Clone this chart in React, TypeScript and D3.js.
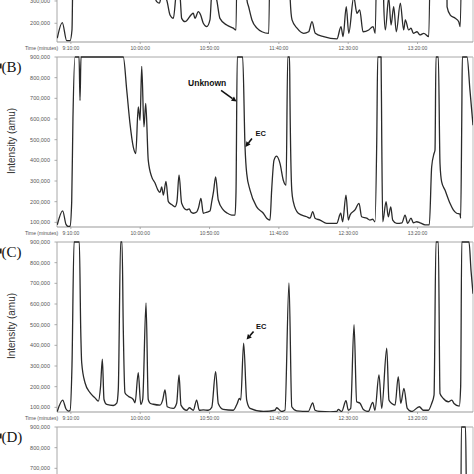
import React from 'react';
import * as d3 from 'd3';

// ---- data (time in seconds, intensity in thousands of amu) ----
const timeTicks = [550, 600, 650, 700, 750, 800];
const timeTickLabels = ['9:10:00', '10:00:00', '10:50:00', '11:40:00', '12:30:00', '13:20:00'];
const intensityTicksK = [100, 200, 300, 400, 500, 600, 700, 800, 900];
const panelLabels = ['(A)', '(B)', '(C)', '(D)'];
const timeTitle = 'Time (minutes)';
const yTitle = 'Intensity (amu)';

const traceAK: [number, number][] = [
  [540.2,133],[543.8,203],[547.0,122],[549.4,122],[550.8,170],[552.3,950],[556.6,950],[585.4,950],[596.3,600],[607.1,400],
  [611.9,297],[613.8,290],[615.7,330],[619.1,304],[621.5,237],[623.9,222],[626.3,340],[628.7,320],[629.9,222],[632.3,207],
  [638.3,245],[639.5,222],[641.9,252],[643.6,237],[645.5,200],[648.0,185],[650.3,215],[651.6,330],[653.2,345],[655.2,304],
  [657.5,222],[662.4,192],[667.1,178],[669.1,170],[670.5,950],[676.3,950],[677.0,304],[678.2,274],[680.6,215],[684.2,178],
  [687.8,162],[692.7,155],[694.3,950],[707.3,950],[708.2,304],[709.5,215],[713.1,178],[717.9,155],[721.5,162],[723.9,207],
  [726.3,155],[732.3,140],[741.9,130],[744.8,185],[746.3,140],[748.6,274],[750.4,155],[754.0,318],[756.3,245],[758.3,260],
  [760.7,162],[764.8,170],[767.9,185],[769.5,155],[771.5,950],[774.7,950],[775.6,290],[776.8,170],[779.2,315],[780.9,192],
  [782.8,274],[784.7,162],[787.6,290],[790.0,170],[791.2,215],[793.6,170],[795.3,178],[797.0,155],[799.6,162],[801.8,148],
  [804.5,155],[808.1,140],[810.1,950],[820.5,950],[821.3,274],[823.6,237],[827.2,222],[829.7,207],[830.8,185],[832.8,950],
  [840.0,950],
];

const traceBK: [number, number][] = [
  [540.2,88],[544.1,156],[546.5,90],[548.1,80],[549.4,82],[550.6,200],[551.5,600],[553.0,950],[555.9,950],[556.6,690],
  [557.3,950],[586.9,950],[587.8,900],[590.3,739],[592.6,580],[595.0,465],[596.8,433],[598.6,658],[599.9,594],[601.1,855],
  [602.7,562],[604.0,675],[605.8,401],[608.3,320],[610.7,290],[612.8,256],[614.3,245],[615.5,272],[616.7,232],[618.6,298],
  [620.3,200],[622.9,185],[625.1,175],[626.5,200],[628.0,329],[629.9,192],[633.5,160],[635.4,165],[636.6,150],[638.3,144],
  [640.7,150],[642.0,170],[643.8,216],[645.5,144],[648.2,150],[650.3,155],[651.6,200],[652.9,250],[654.4,320],[656.3,208],
  [659.9,160],[662.6,145],[666.0,135],[668.4,135],[669.1,250],[670.0,950],[673.4,950],[673.9,900],[675.6,465],[676.8,337],
  [679.2,256],[684.0,175],[688.8,144],[691.2,120],[693.6,111],[694.8,256],[696.5,401],[698.4,420],[700.8,385],[703.2,304],
  [705.2,280],[706.4,950],[707.7,950],[708.0,700],[709.3,256],[710.4,200],[714.0,144],[720.1,127],[722.5,120],[724.4,152],
  [726.1,120],[729.7,111],[734.5,95],[741.7,95],[744.6,144],[746.0,103],[748.4,232],[750.1,111],[751.3,135],[754.9,160],
  [757.8,192],[759.7,127],[763.3,120],[765.7,111],[767.7,115],[769.3,103],[770.6,500],[771.3,950],[773.7,950],[774.2,500],
  [774.9,103],[777.3,200],[778.9,127],[780.7,175],[782.1,111],[785.0,95],[788.8,98],[791.0,135],[792.9,95],[795.3,120],
  [797.0,98],[799.4,103],[801.8,98],[805.4,88],[808.5,88],[810.2,369],[811.9,433],[812.6,449],[813.3,950],[815.0,950],
  [816.2,385],[817.4,296],[819.8,256],[823.4,192],[825.8,160],[828.2,144],[830.6,140],[831.1,120],[831.9,600],[832.3,950],
  [835.7,950],[837.8,740],[840.0,570],
];

const traceCK: [number, number][] = [
  [540.2,80],[544.1,135],[546.5,92],[548.3,82],[549.4,84],[550.8,300],[552.3,950],[556.1,950],[557.1,479],[557.8,317],
  [560.2,219],[563.8,171],[567.4,146],[569.8,130],[571.4,200],[572.7,333],[573.9,138],[575.8,114],[580.6,109],[583.1,120],
  [584.2,187],[585.9,950],[586.9,950],[587.8,479],[589.0,171],[591.4,154],[595.0,138],[596.3,122],[598.6,268],[600.4,114],
  [601.8,138],[604.2,605],[605.8,138],[607.1,120],[609.5,115],[614.3,111],[616.2,135],[617.9,184],[619.5,103],[623.9,95],
  [626.3,120],[628.0,257],[629.4,111],[633.5,86],[635.4,98],[638.3,86],[640.7,135],[642.6,86],[645.5,88],[649.1,86],
  [651.6,100],[654.4,273],[656.3,119],[659.9,90],[667.1,86],[670.0,119],[671.5,143],[672.5,135],[674.6,411],[676.8,135],
  [679.2,95],[688.8,80],[697.2,86],[698.4,98],[702.0,80],[704.4,86],[707.3,702],[709.3,103],[712.9,83],[721.2,80],
  [724.4,122],[726.1,86],[729.7,80],[736.9,78],[741.7,80],[742.9,90],[745.3,80],[748.4,132],[750.1,86],[751.8,95],
  [754.2,500],[756.1,127],[758.5,120],[760.9,90],[764.5,80],[767.7,124],[769.3,86],[772.2,257],[774.2,95],[777.8,386],
  [779.4,135],[781.4,119],[783.8,111],[786.1,249],[787.9,119],[790.2,192],[792.6,95],[795.8,80],[801.3,103],[804.2,86],
  [807.8,86],[810.2,119],[811.9,159],[813.3,950],[815.0,950],[816.2,167],[818.6,143],[822.2,127],[824.7,135],[826.3,119],
  [830.1,106],[831.1,200],[831.9,950],[837.1,950],[838.6,760],[840.0,650],
];

const traceDK: [number, number][] = [
  [540.2,85],[560.0,95],[600.0,92],[650.0,90],[700.0,88],[750.0,90],[800.0,88],[831.0,110],[831.6,950],[834.6,950],
  [835.2,600],[836.0,200],[838.0,120],[840.0,110],
];

const traces = [traceAK, traceBK, traceCK, traceDK];

type Ann = { panel: number; t: number; v: number; text: string; tail: [number, number]; txt: [number, number]; size: number };
const annotations: Ann[] = [
  { panel: 1, t: 669.5, v: 685, text: 'Unknown', tail: [-15.5, -11], txt: [-48.5, -15], size: 8.5 },
  { panel: 1, t: 675.9, v: 465, text: 'EC', tail: [6.5, -8.5], txt: [10, -10.5], size: 7.5 },
  { panel: 2, t: 676.7, v: 428, text: 'EC', tail: [7, -8], txt: [9.5, -10.5], size: 7.5 },
];

// ---- layout ----
const W = 474, H = 474;
const LEFT = 57, RIGHT = 473;
const layout = [
  { top: -132.8, bottom: 42, vmin: 116 },
  { top: 57, bottom: 227, vmin: 77.5 },
  { top: 242, bottom: 412, vmin: 77.5 },
  { top: 427, bottom: 597, vmin: 77.5 },
];
const VMAX = 900;
const FONT = '"Liberation Sans", Arial, sans-serif';

const x = d3.scaleLinear().domain([540, 840]).range([LEFT, RIGHT]);
const fmt = d3.format(',');
const onCanvas = (yy: number, pad = 3) => yy > -pad && yy < H + pad;

function Arrow({ x1, y1, x2, y2 }: { x1: number; y1: number; x2: number; y2: number }) {
  const a = Math.atan2(y2 - y1, x2 - x1);
  const L = 5, hw = 2.6;
  const bx = x2 - L * Math.cos(a), by = y2 - L * Math.sin(a);
  const p1 = [bx + hw * Math.sin(a), by - hw * Math.cos(a)];
  const p2 = [bx - hw * Math.sin(a), by + hw * Math.cos(a)];
  return (
    <g>
      <line x1={x1} y1={y1} x2={bx} y2={by} stroke="#111" strokeWidth={1.6} />
      <polygon points={`${x2},${y2} ${p1[0]},${p1[1]} ${p2[0]},${p2[1]}`} fill="#111" />
    </g>
  );
}

export default function App() {
  return (
    <svg width={W} height={H} style={{ position: 'absolute', left: 0, top: 0, background: '#fff' }}>
      <rect x={0} y={0} width={W} height={H} fill="#fff" />
      <defs>
        {layout.map((p, i) => (
          <clipPath id={`clip${i}`} key={i}>
            <rect x={LEFT} y={p.top - 1.5} width={RIGHT - LEFT} height={p.bottom - p.top + 1.5} />
          </clipPath>
        ))}
      </defs>
      {layout.map((p, i) => {
        const y = d3.scaleLinear().domain([p.vmin, VMAX]).range([p.bottom, p.top]);
        const line = d3
          .line<[number, number]>()
          .x((d) => x(d[0]))
          .y((d) => y(Math.min(d[1], VMAX)))
          .curve(d3.curveMonotoneX);
        const yt = intensityTicksK.filter((v) => v >= p.vmin && onCanvas(y(v)));
        const mid = (p.top + p.bottom) / 2;
        const rowY = p.bottom + 7.8;
        const showTitle = mid + 34 > 0 && mid - 34 < H;
        const labelY = p.top + 14.5;
        return (
          <g key={i}>
            {/* frame */}
            <line x1={LEFT} x2={RIGHT} y1={p.top} y2={p.top} stroke="#a8a8a8" strokeWidth={1} />
            <line x1={LEFT} x2={LEFT} y1={p.top} y2={p.bottom} stroke="#a8a8a8" strokeWidth={1} />
            <line x1={RIGHT} x2={RIGHT} y1={p.top} y2={p.bottom} stroke="#bbb" strokeWidth={1} />
            <line x1={LEFT} x2={RIGHT} y1={p.bottom} y2={p.bottom} stroke="#999" strokeWidth={1} />
            {/* y ticks */}
            {yt.map((v) => (
              <g key={v}>
                <line x1={LEFT - 2.5} x2={LEFT} y1={y(v)} y2={y(v)} stroke="#999" strokeWidth={0.8} />
                <text x={50} y={y(v) + 1.9} fontSize={5.5} fill="#555" textAnchor="end" fontFamily={FONT}>
                  {fmt(v * 1000)}
                </text>
              </g>
            ))}
            {/* x ticks */}
            {timeTicks.map((t, k) => (
              <g key={t}>
                <line x1={x(t)} x2={x(t)} y1={p.bottom} y2={p.bottom + 2} stroke="#999" strokeWidth={0.8} />
                {onCanvas(rowY) && (
                  <text x={x(t)} y={rowY} fontSize={5} fill="#555" textAnchor="middle" fontFamily={FONT}>
                    {timeTickLabels[k]}
                  </text>
                )}
              </g>
            ))}
            {onCanvas(rowY) && (
              <text x={25} y={rowY} fontSize={5} fill="#555" fontFamily={FONT}>
                {timeTitle}
              </text>
            )}
            {/* y title */}
            {showTitle && (
              <text
                transform={`translate(14.5,${mid - 1}) rotate(-90)`}
                fontSize={10}
                fill="#333"
                textAnchor="middle"
                fontFamily={FONT}
              >
                {yTitle}
              </text>
            )}
            {/* panel label */}
            {onCanvas(labelY) && (
              <g>
                <rect x={0} y={p.top + 6.5} width={1.6} height={5} fill="#222" />
                <text x={1.5} y={labelY} fontSize={15} fill="#111" fontFamily='"Liberation Serif", "Times New Roman", serif'>
                  {panelLabels[i]}
                </text>
              </g>
            )}
            {/* trace */}
            <path
              d={line(traces[i]) || ''}
              fill="none"
              stroke="#2a2a2a"
              strokeWidth={1.3}
              strokeLinejoin="round"
              clipPath={`url(#clip${i})`}
            />
            {/* annotations */}
            {annotations
              .filter((a) => a.panel === i)
              .map((a, k) => {
                const tx = x(a.t), ty = y(a.v);
                return (
                  <g key={k}>
                    <Arrow x1={tx + a.tail[0]} y1={ty + a.tail[1]} x2={tx} y2={ty} />
                    <text x={tx + a.txt[0]} y={ty + a.txt[1]} fontSize={a.size} fontWeight="bold" fill="#111" fontFamily={FONT}>
                      {a.text}
                    </text>
                  </g>
                );
              })}
          </g>
        );
      })}
    </svg>
  );
}
